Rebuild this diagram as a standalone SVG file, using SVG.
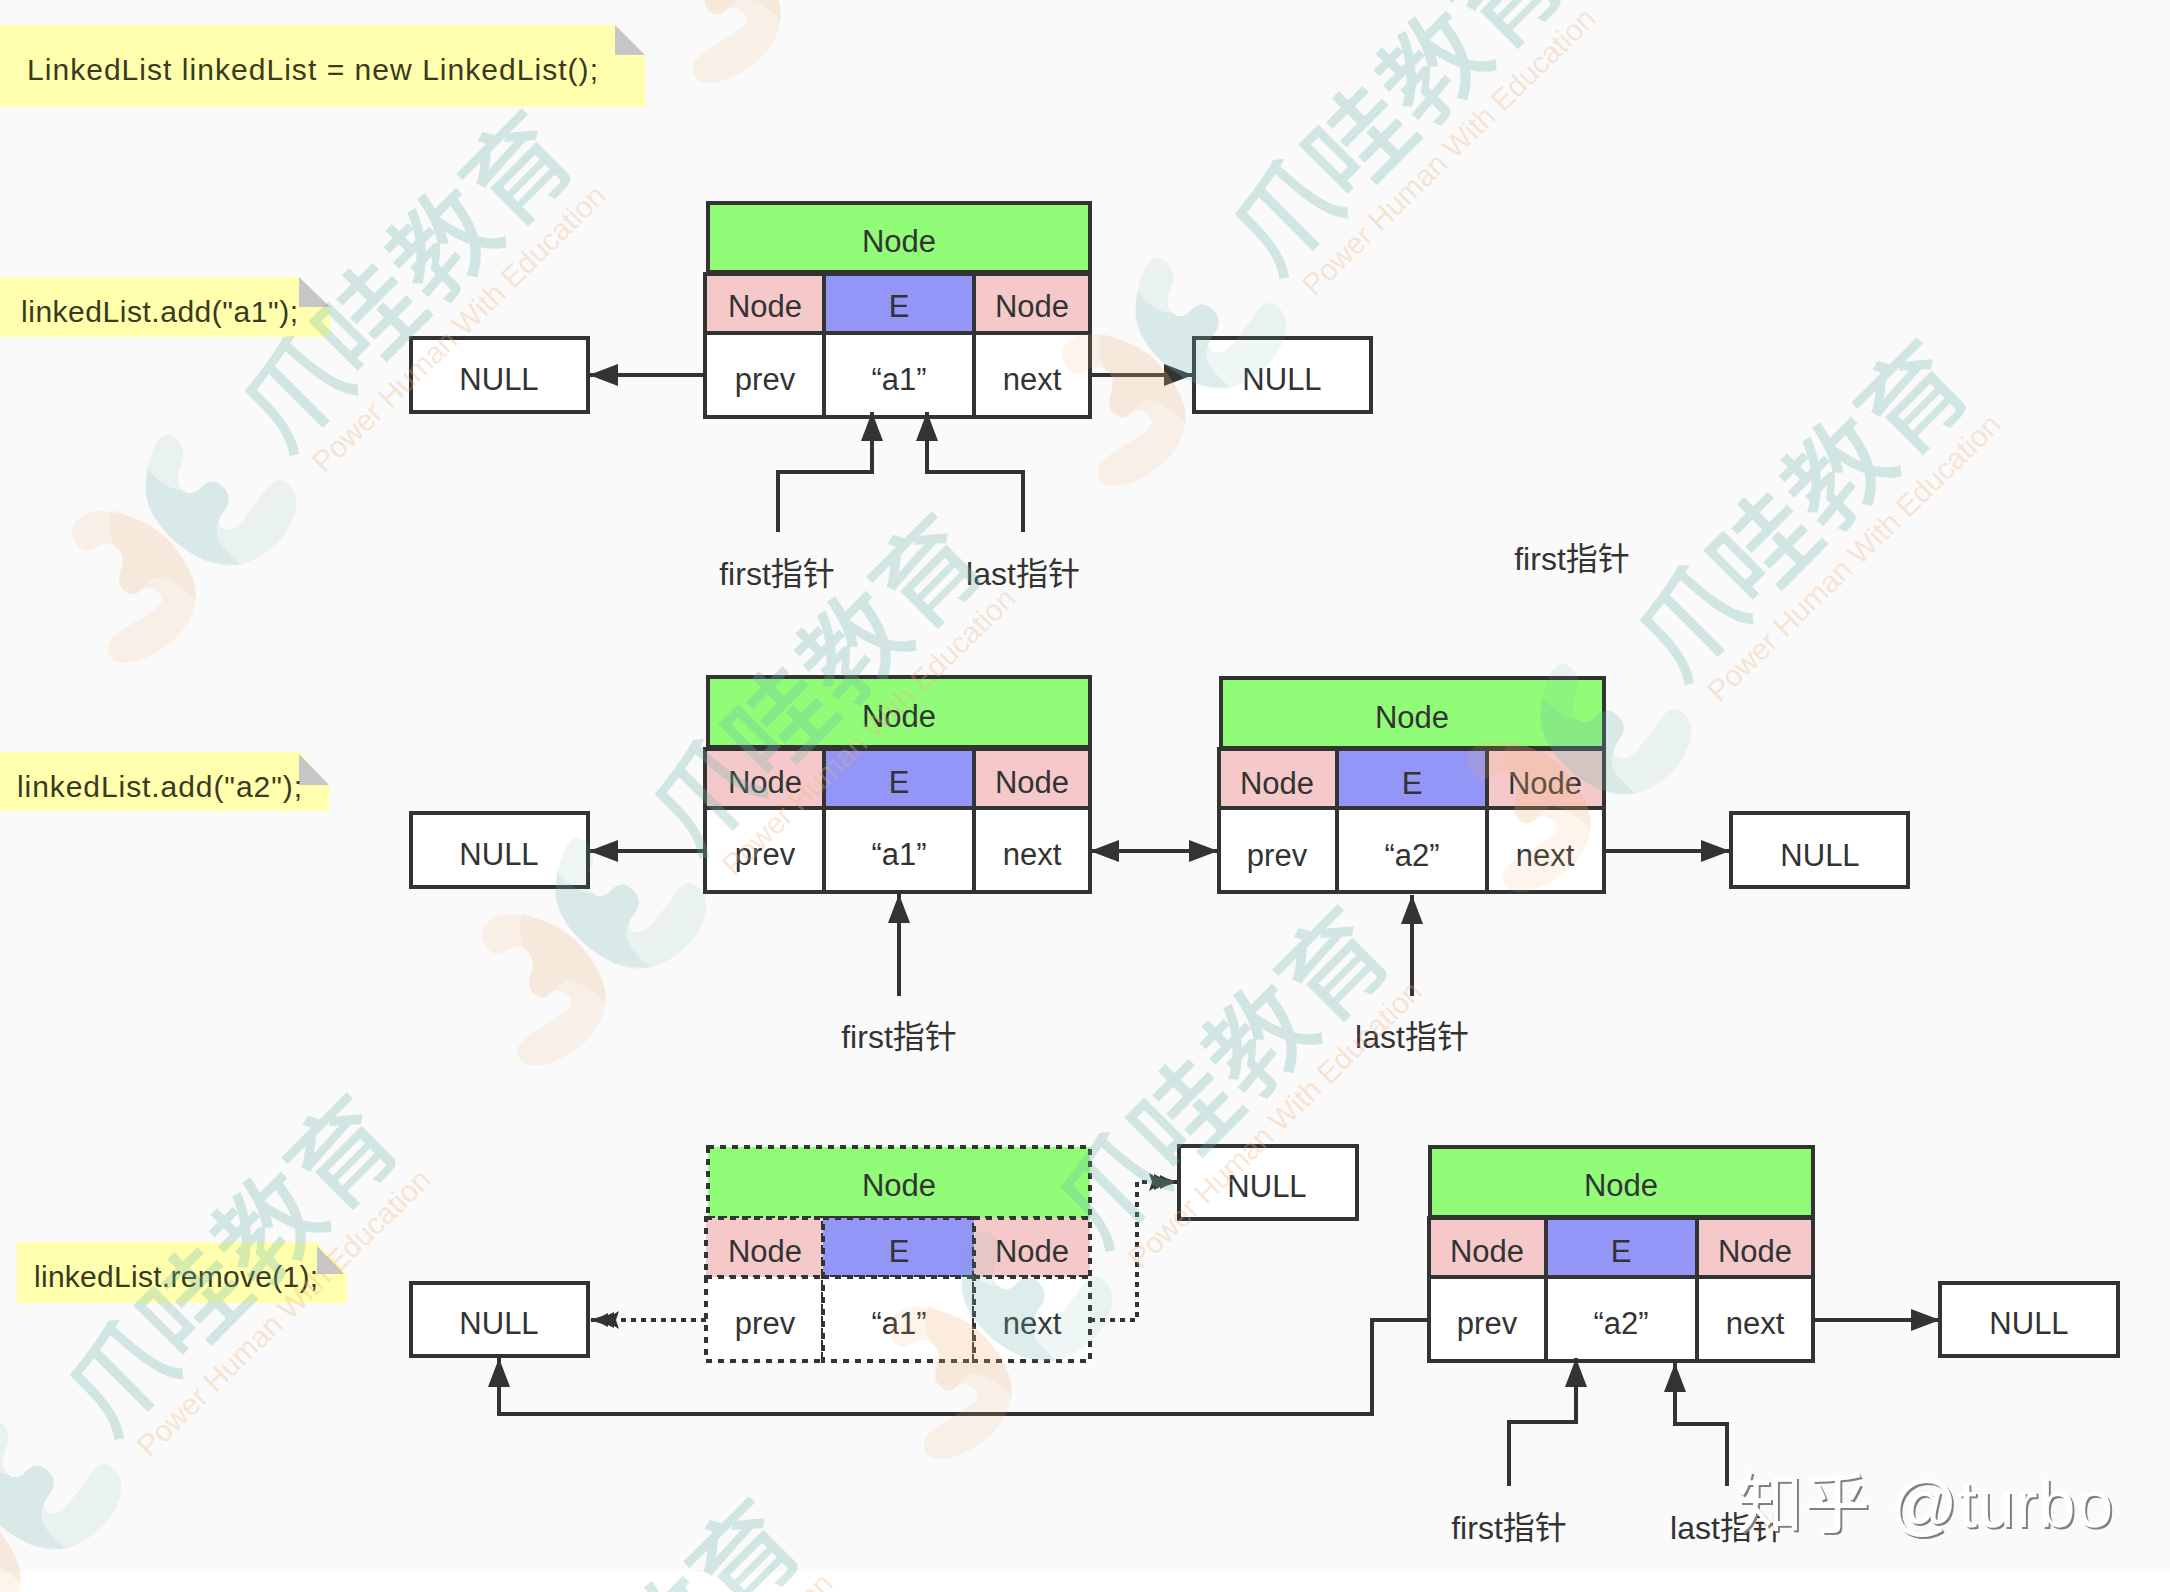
<svg xmlns="http://www.w3.org/2000/svg" width="2170" height="1592" viewBox="0 0 2170 1592">
<style>
text{font-family:"Liberation Sans","Noto Sans CJK SC",sans-serif;font-size:31px;fill:#333;text-anchor:middle}
.lb{font-size:32px}
.note text{text-anchor:start;fill:#3a3a20;font-size:30px}
.note .y{fill:#ffffae}
.note .f{fill:#c6c6c6}
.b{stroke:#333;stroke-width:4;fill:#fff}
.g{fill:#90fc78}.p{fill:#f5c9c9}.e{fill:#9396f6}.w{fill:#fff}
.d rect{stroke-dasharray:6 6}
.c{fill:none;stroke:#333;stroke-width:4;marker-end:url(#ah)}
.dot{stroke-dasharray:5 5;marker-end:url(#ad)}
.wmc{font-family:"Noto Sans CJK SC",sans-serif;font-size:105px;font-weight:500;fill:#6fb5ae;fill-opacity:.29}
.wmp{font-size:30px;fill:#eeb27a;fill-opacity:.32}
.lt{fill:#6fb5ae;opacity:.11}.ltc{fill:#6fb5ae;opacity:.15}
.lo{fill:#eeb27a;opacity:.14}.loc{fill:#eeb27a;opacity:.12}
.zh{font-size:66px;fill:#fff;text-anchor:start;filter:url(#sh)}
</style>
<defs>
<marker id="ah" markerUnits="userSpaceOnUse" markerWidth="30" markerHeight="22" refX="29" refY="11" orient="auto-start-reverse"><path d="M0 0L29 11L0 22Z" fill="#333"/></marker>
<marker id="ad" markerUnits="userSpaceOnUse" markerWidth="30" markerHeight="20" refX="29" refY="10" orient="auto"><path d="M0 1L5 4V2L11 5V3L17 6L29 10L17 14L11 17V15L5 18V16L0 19L3 10Z" fill="#333"/></marker>
<filter id="sh" x="-5%" y="-15%" width="110%" height="130%"><feDropShadow dx="2" dy="2" stdDeviation=".6" flood-color="#808080"/></filter>
<g id="logo">
<path class="lt" d="M153.5 449Q162 428 175 438Q188 448 181 465Q174 482 182.5 490Q191 498 201.5 487Q212 476 223 487Q234 498 224 511Q214 524 223 528.5Q232 533 242.5 520.5Q253 508 265.5 490Q278 472 290 486Q302 500 291 523Q280 546 255 559Q230 572 204 560Q178 548 162 528Q146 508 145.5 489Q145 470 153.5 449Z"/>
<path class="ltc" d="M147 468Q165 490 182.5 490Q191 498 201.5 487Q212 476 223 487Q234 498 224 511Q210 530 222 546Q230 556 240 564Q226 566 204 560Q178 548 162 528Q146 508 145.5 489Z"/>
<path class="lo" d="M76 521Q84 512 98 511Q112 510 136 519Q160 528 176 549Q192 570 195 587Q198 604 188 622Q178 640 157 652Q136 664 123 663Q110 662 108 652Q106 642 115.5 635Q125 628 138.5 620Q152 612 159 605Q166 598 156.5 591Q147 584 140 591Q133 598 124.5 591Q116 584 121 569.5Q126 555 116.5 547.5Q107 540 95.5 548Q84 556 76 543Q68 530 76 521Z"/>
<path class="loc" d="M112 510L136 519Q160 528 176 549Q192 570 195 587L196 600Q176 580 156.5 577Q148 582 140 591Q133 598 124.5 591Q116 584 121 569.5Q126 555 116.5 547.5Q105 530 112 510Z"/>
</g>
<g id="wm">
<text class="wmc" transform="translate(407 282) rotate(-45)" y="37">爪哇教育</text>
<text class="wmp" transform="translate(466 336) rotate(-44.3)" textLength="396">Power Human With Education</text>
</g>
</defs>
<rect width="2170" height="1592" fill="#fff"/>
<rect width="2170" height="1572" fill="#fafafa"/>

<g id="note-new" class="note"><path class="y" d="M0 25H615L645 55V107H0Z"/><path class="f" d="M615 25V55H645Z"/><text x="27" y="80" textLength="571">LinkedList linkedList = new LinkedList();</text></g>
<g id="note-a1" class="note"><path class="y" d="M0 277H299L330 307V337H0Z"/><path class="f" d="M299 277V307H330Z"/><text x="21" y="322" textLength="277">linkedList.add("a1");</text></g>
<g id="note-a2" class="note"><path class="y" d="M0 752H299L329 785V811H0Z"/><path class="f" d="M299 754V785H329Z"/><text x="17" y="797" textLength="285">linkedList.add("a2");</text></g>
<g id="note-rm" class="note"><path class="y" d="M17 1242H317L347 1273V1303H17Z"/><path class="f" d="M317 1246V1274H344Z"/><text x="34" y="1287" textLength="284">linkedList.remove(1);</text></g>

<g id="node-1">
<rect class="b g" x="708" y="203" width="382" height="69"/>
<rect class="b p" x="705" y="274" width="119" height="59"/><rect class="b e" x="824" y="274" width="150" height="59"/><rect class="b p" x="974" y="274" width="116" height="59"/>
<rect class="b w" x="705" y="333" width="119" height="84"/><rect class="b w" x="824" y="333" width="150" height="84"/><rect class="b w" x="974" y="333" width="116" height="84"/>
<text x="899" y="252">Node</text><text x="765" y="317">Node</text><text x="899" y="317">E</text><text x="1032" y="317">Node</text><text x="765" y="390">prev</text><text x="899" y="390">“a1”</text><text x="1032" y="390">next</text>
</g>
<g id="null-1l"><rect class="b" x="411" y="338" width="177" height="74"/><text x="499" y="390">NULL</text></g>
<g id="null-1r"><rect class="b" x="1194" y="338" width="177" height="74"/><text x="1282" y="390">NULL</text></g>
<g id="first-1"><text class="lb" x="777" y="585">first指针</text></g>
<g id="last-1"><text class="lb" x="1023" y="585">last指针</text></g>
<g id="first-stray"><text class="lb" x="1572" y="570">first指针</text></g>

<g id="node-2a">
<rect class="b g" x="708" y="677" width="382" height="70"/>
<rect class="b p" x="705" y="749" width="119" height="59"/><rect class="b e" x="824" y="749" width="150" height="59"/><rect class="b p" x="974" y="749" width="116" height="59"/>
<rect class="b w" x="705" y="808" width="119" height="84"/><rect class="b w" x="824" y="808" width="150" height="84"/><rect class="b w" x="974" y="808" width="116" height="84"/>
<text x="899" y="727">Node</text><text x="765" y="793">Node</text><text x="899" y="793">E</text><text x="1032" y="793">Node</text><text x="765" y="865">prev</text><text x="899" y="865">“a1”</text><text x="1032" y="865">next</text>
</g>
<g id="node-2b">
<rect class="b g" x="1221" y="678" width="383" height="70"/>
<rect class="b p" x="1219" y="749" width="118" height="59"/><rect class="b e" x="1337" y="749" width="150" height="59"/><rect class="b p" x="1487" y="749" width="117" height="59"/>
<rect class="b w" x="1219" y="808" width="118" height="84"/><rect class="b w" x="1337" y="808" width="150" height="84"/><rect class="b w" x="1487" y="808" width="117" height="84"/>
<text x="1412" y="728">Node</text><text x="1277" y="794">Node</text><text x="1412" y="794">E</text><text x="1545" y="794">Node</text><text x="1277" y="866">prev</text><text x="1412" y="866">“a2”</text><text x="1545" y="866">next</text>
</g>
<g id="null-2l"><rect class="b" x="411" y="813" width="177" height="74"/><text x="499" y="865">NULL</text></g>
<g id="null-2r"><rect class="b" x="1731" y="813" width="177" height="74"/><text x="1820" y="866">NULL</text></g>
<g id="first-2"><text class="lb" x="899" y="1048">first指针</text></g>
<g id="last-2"><text class="lb" x="1412" y="1048">last指针</text></g>

<g id="node-3" class="d">
<rect class="b g" x="708" y="1147" width="382" height="71"/>
<rect class="b p" x="706" y="1218" width="117" height="59"/><rect class="b e" x="823" y="1218" width="151" height="59"/><rect class="b p" x="974" y="1218" width="116" height="59"/>
<rect class="b w" x="706" y="1277" width="117" height="84"/><rect class="b w" x="823" y="1277" width="151" height="84"/><rect class="b w" x="974" y="1277" width="116" height="84"/>
<text x="899" y="1196">Node</text><text x="765" y="1262">Node</text><text x="899" y="1262">E</text><text x="1032" y="1262">Node</text><text x="765" y="1334">prev</text><text x="899" y="1334">“a1”</text><text x="1032" y="1334">next</text>
</g>
<g id="node-4">
<rect class="b g" x="1430" y="1147" width="383" height="70"/>
<rect class="b p" x="1429" y="1218" width="117" height="59"/><rect class="b e" x="1546" y="1218" width="151" height="59"/><rect class="b p" x="1697" y="1218" width="116" height="59"/>
<rect class="b w" x="1429" y="1277" width="117" height="84"/><rect class="b w" x="1546" y="1277" width="151" height="84"/><rect class="b w" x="1697" y="1277" width="116" height="84"/>
<text x="1621" y="1196">Node</text><text x="1487" y="1262">Node</text><text x="1621" y="1262">E</text><text x="1755" y="1262">Node</text><text x="1487" y="1334">prev</text><text x="1621" y="1334">“a2”</text><text x="1755" y="1334">next</text>
</g>
<g id="null-3u"><rect class="b" x="1179" y="1146" width="178" height="73"/><text x="1267" y="1197">NULL</text></g>
<g id="null-3l"><rect class="b" x="411" y="1283" width="177" height="73"/><text x="499" y="1334">NULL</text></g>
<g id="null-4r"><rect class="b" x="1940" y="1283" width="178" height="73"/><text x="2029" y="1334">NULL</text></g>
<g id="first-3"><text class="lb" x="1509" y="1539">first指针</text></g>
<g id="last-3"><text class="lb" x="1727" y="1539">last指针</text></g>

<g id="connectors">
<path class="c" d="M705 375H589"/>
<path class="c" d="M1090 375H1193"/>
<path class="c" d="M778 532V472H872V412"/>
<path class="c" d="M1023 532V472H927V412"/>
<path class="c" d="M705 851H589"/>
<path class="c" d="M1090 851H1218" style="marker-start:url(#ah)"/>
<path class="c" d="M1604 851H1730"/>
<path class="c" d="M899 996V894"/>
<path class="c" d="M1412 996V895"/>
<path class="c dot" d="M706 1320H590"/>
<path class="c dot" d="M1090 1320H1137V1182H1178"/>
<path class="c" d="M1429 1320H1372V1414H499V1358"/>
<path class="c" d="M1813 1320H1940"/>
<path class="c" d="M1509 1486V1422H1576V1358"/>
<path class="c" d="M1727 1486V1424H1675V1363"/>
</g>

<g id="watermarks">
<use href="#logo" transform="translate(585 -580)"/>
<use href="#logo"/><use href="#wm"/>
<use href="#logo" transform="translate(990 -177)"/><use href="#wm" transform="translate(990 -177)"/>
<use href="#logo" transform="translate(1395 229)"/><use href="#wm" transform="translate(1395 229)"/>
<use href="#logo" transform="translate(410 403)"/><use href="#wm" transform="translate(410 403)"/>
<use href="#logo" transform="translate(816 796)"/><use href="#wm" transform="translate(816 796)"/>
<use href="#logo" transform="translate(-175 984)"/><use href="#wm" transform="translate(-175 984)"/>
<use href="#wm" transform="translate(227 1388)"/>
</g>
<text id="credit" class="zh" x="1737" y="1527" textLength="376">知乎 @turbo</text>
</svg>
